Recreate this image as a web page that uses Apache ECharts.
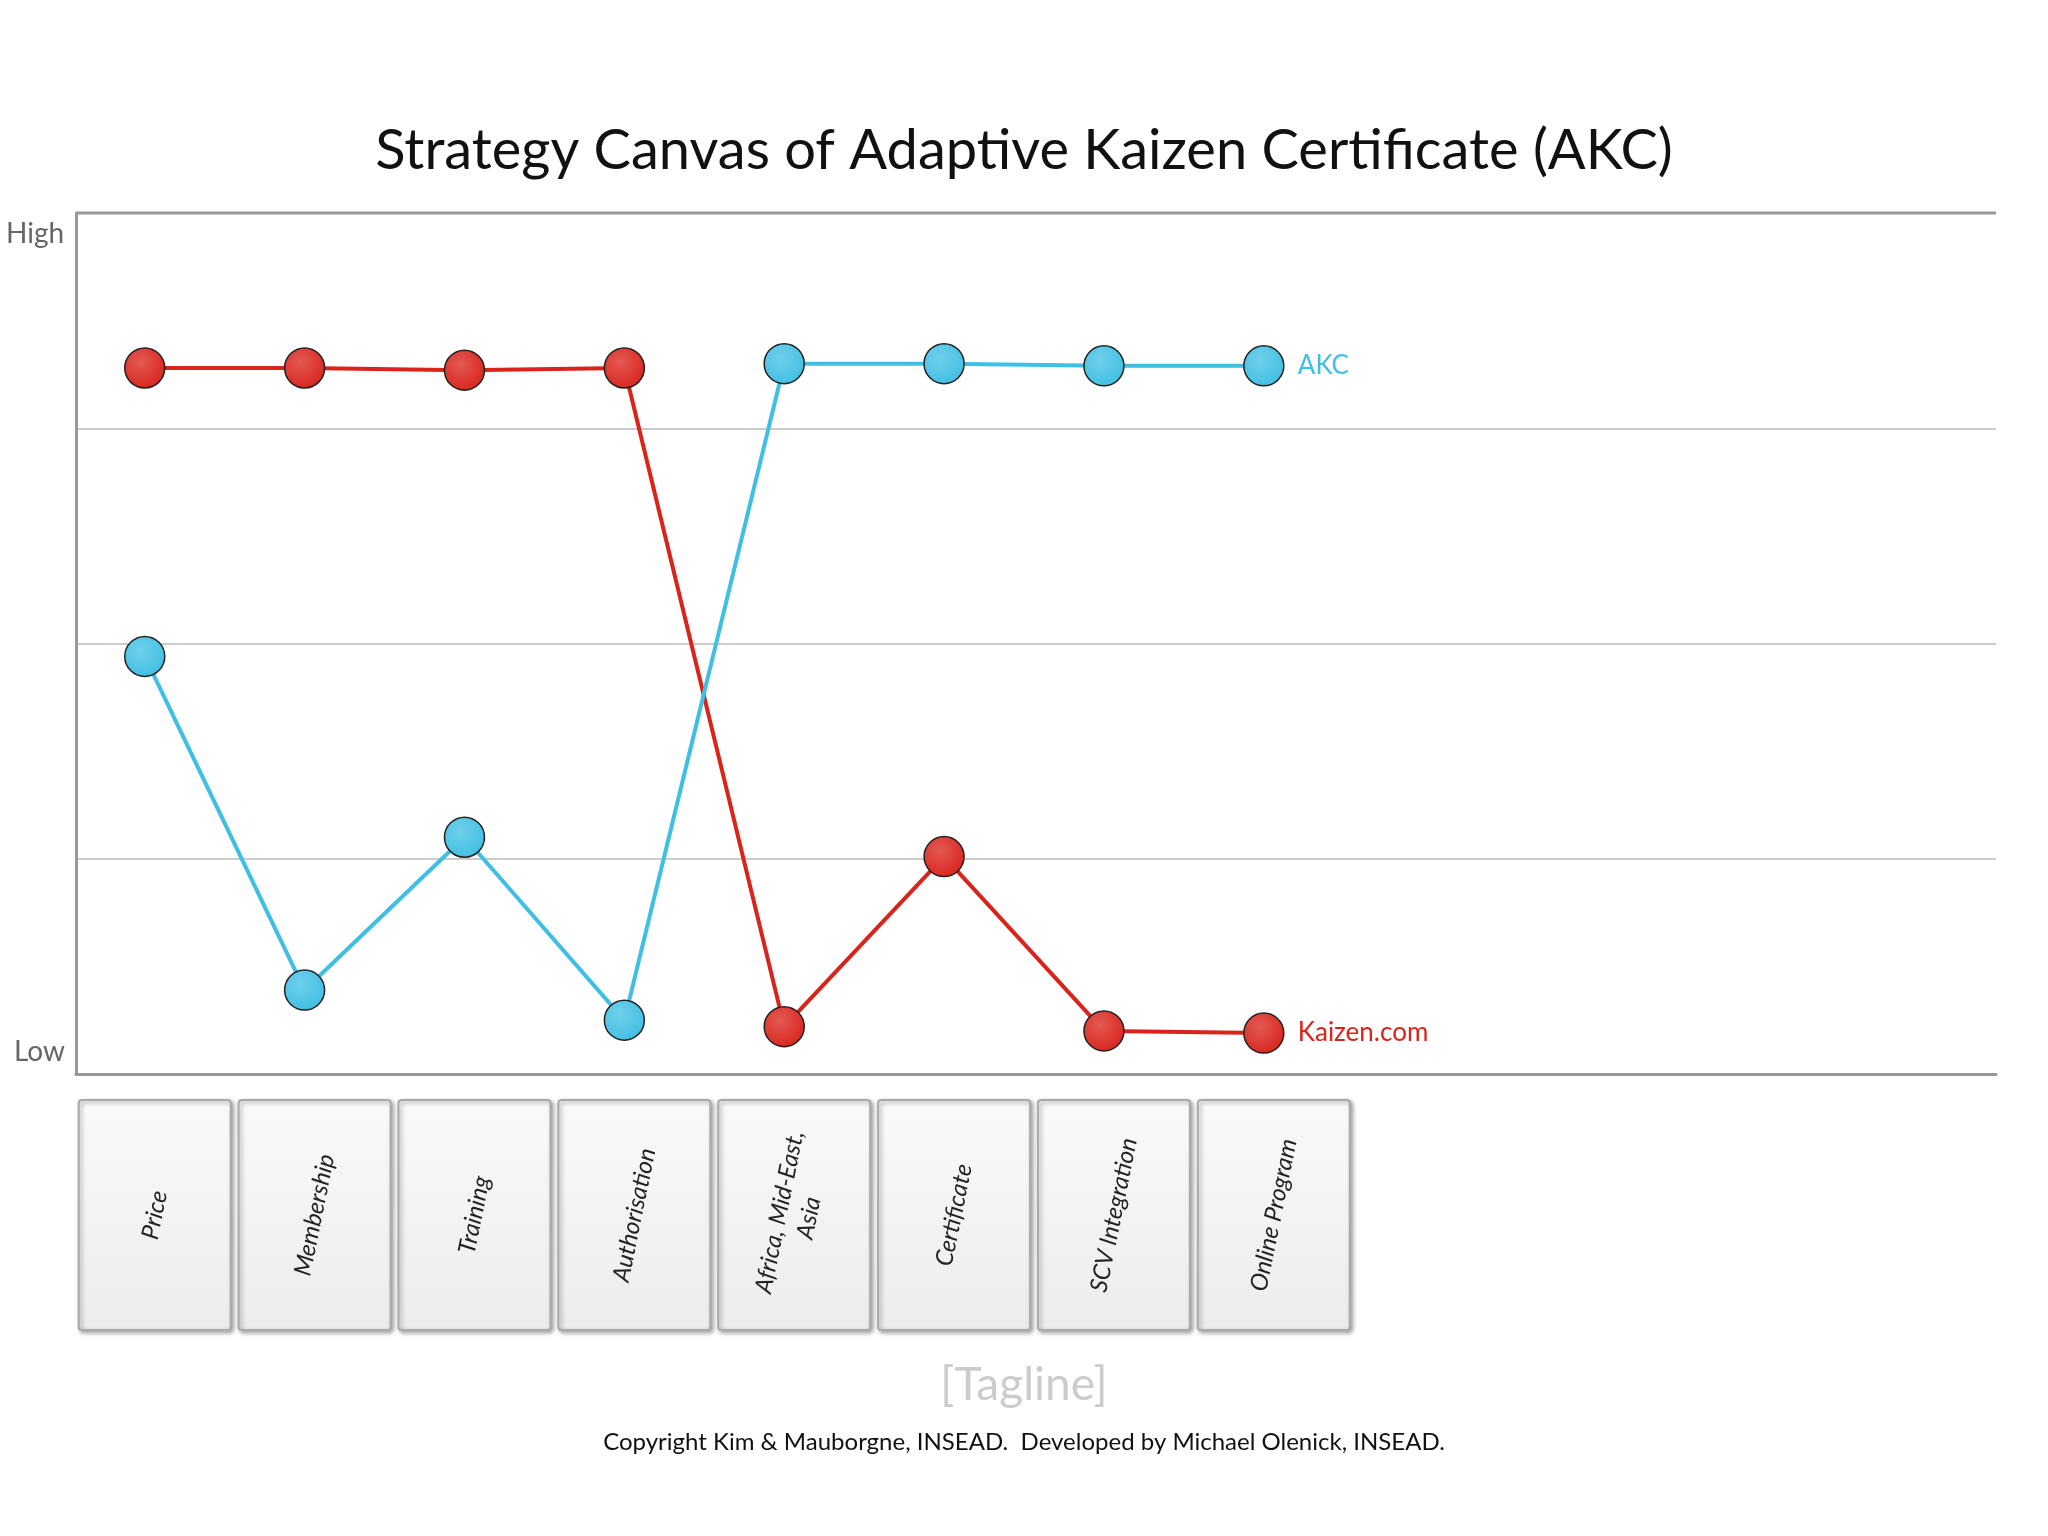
<!DOCTYPE html>
<html>
<head>
<meta charset="utf-8">
<script src="https://cdn.jsdelivr.net/npm/echarts@6/dist/echarts.min.js"></script>
<style>html,body{margin:0;background:#fff}#main{width:2048px;height:1536px}</style>
</head>
<body>
<div id="main"></div>
<script>
var categories = ['Price', 'Membership', 'Training', 'Authorisation', 'Africa, Mid-East,\nAsia', 'Certificate', 'SCV Integration', 'Online Program'];
var kaizenValues = [3.28, 3.28, 3.27, 3.28, 0.22, 1.01, 0.20, 0.19];
var akcValues = [1.94, 0.39, 1.10, 0.25, 3.30, 3.30, 3.29, 3.29];

var myChart = echarts.init(document.getElementById('main'));
var font = 'Lato, "Noto Sans", sans-serif';

function pairs(vals){
    return vals.map(function(v, i){ return [i, v]; });
}
function series(name, color, vals){
    return {
        name: name,
        type: 'line',
        data: pairs(vals),
        symbol: 'circle',
        symbolSize: 40,
        lineStyle: {color: color, width: 4},
        itemStyle: {
            color: new echarts.graphic.RadialGradient(0.4, 0.35, 0.7, [
                {offset: 0, color: echarts.color.lift(color, 0.25)},
                {offset: 1, color: color}
            ]),
            borderColor: '#222', borderWidth: 1.5
        },
        endLabel: {
            show: true, formatter: name, color: color,
            fontSize: 26, fontFamily: font, offset: [26, 0]
        },
        z: name === 'AKC' ? 3 : 2
    };
}

var option = {
    backgroundColor: '#fff',
    animation: false,
    title: {
        text: 'Strategy Canvas of Adaptive Kaizen Certificate (AKC)',
        left: 'center', top: 118,
        textStyle: {fontSize: 56, fontWeight: 'normal', color: '#111', fontFamily: font}
    },
    grid: {left: 76, right: 52, top: 213, bottom: 462},
    xAxis: {
        type: 'value', min: -0.43, max: 11.58,
        axisLine: {show: true, onZero: false, lineStyle: {color: '#999', width: 3}},
        axisTick: {show: false}, axisLabel: {show: false}, splitLine: {show: false}
    },
    yAxis: {
        type: 'value', min: 0, max: 4, interval: 1,
        axisLine: {show: true, onZero: false, lineStyle: {color: '#999', width: 3}},
        axisTick: {show: false}, axisLabel: {show: false},
        splitLine: {lineStyle: {color: '#ccc', width: 2}}
    },
    series: [
        series('Kaizen.com', '#d9231b', kaizenValues),
        series('AKC', '#3fbfe4', akcValues)
    ]
};
myChart.setOption(option);

var graphics = [
    {type: 'line', shape: {x1: 76, y1: 213, x2: 1996, y2: 213}, style: {stroke: '#999', lineWidth: 3}},
    {type: 'text', left: 6, top: 220, style: {text: 'High', fill: '#666', font: '28px ' + font}},
    {type: 'text', left: 14, top: 1038, style: {text: 'Low', fill: '#666', font: '28px ' + font}},
    {type: 'text', left: 'center', top: 1362, style: {text: '[Tagline]', fill: '#ccc', font: '46px ' + font}},
    {type: 'text', left: 'center', top: 1430, style: {text: 'Copyright Kim & Mauborgne, INSEAD.  Developed by Michael Olenick, INSEAD.', fill: '#111', font: '24px ' + font}}
];
categories.forEach(function(c, i){
    var cx = myChart.convertToPixel({gridIndex: 0}, [i, 0])[0] + 10;
    graphics.push({
        type: 'rect',
        shape: {x: cx - 76, y: 1100, width: 152, height: 230, r: 3},
        style: {
            fill: new echarts.graphic.LinearGradient(0, 0, 0, 1, [
                {offset: 0, color: '#fafafa'}, {offset: 1, color: '#ececec'}
            ]),
            stroke: '#aaa', lineWidth: 2, shadowColor: 'rgba(0,0,0,0.35)', shadowBlur: 4, shadowOffsetX: 2, shadowOffsetY: 2
        }
    });
    graphics.push({
        type: 'text', x: cx, y: 1215, rotation: Math.PI / 2 - 0.2,
        style: {text: c, fill: '#222', font: 'italic 24px ' + font, align: 'center', verticalAlign: 'middle', lineHeight: 30}
    });
});
myChart.setOption({graphic: graphics});
</script>
</body>
</html>
